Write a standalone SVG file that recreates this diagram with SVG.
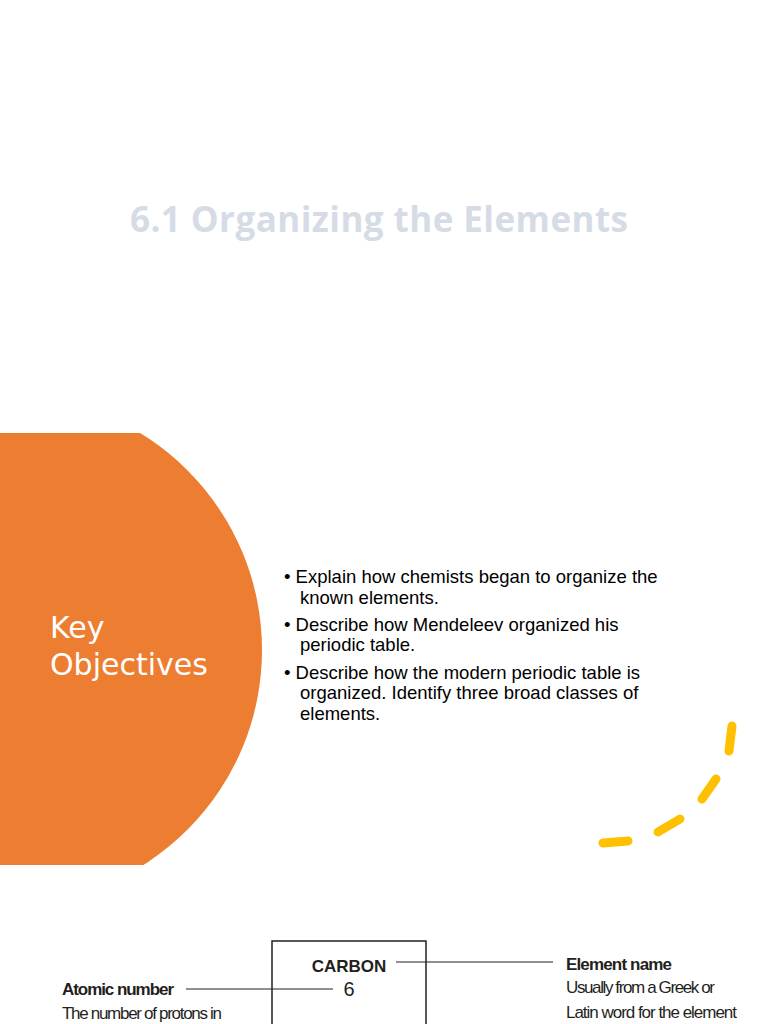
<svg xmlns="http://www.w3.org/2000/svg" width="768" height="1024" viewBox="0 0 768 1024">
<style>
.b{font-family:"Liberation Sans",Arial,sans-serif;font-size:18.5px;fill:#000}
.c{font-family:"Liberation Sans Narrow","Liberation Sans",sans-serif;fill:#231f20}
.d{stroke:#ffc000;stroke-width:9;stroke-linecap:round;fill:none}
</style>
<defs><clipPath id="cp"><rect x="0" y="433" width="300" height="432"/></clipPath></defs>
<rect width="768" height="1024" fill="#fff"/>
<text x="379" y="232" text-anchor="middle" font-family="'Open Sans','Liberation Sans',sans-serif" font-weight="bold" font-size="35" fill="#d6dce5" textLength="498">6.1 Organizing the Elements</text>
<g id="circle"><circle cx="8" cy="650" r="254" fill="#ed7d31" clip-path="url(#cp)"/>
<text font-family="'DejaVu Sans',sans-serif" font-size="30" fill="#fff"><tspan x="50" y="638">Key</tspan><tspan x="50" y="675">Objectives</tspan></text></g>
<g id="bullets">
<text class="b"><tspan x="284" y="583">• Explain how chemists began to organize the</tspan><tspan x="300" y="604">known elements.</tspan>
<tspan x="284" y="631">• Describe how Mendeleev organized his</tspan><tspan x="300" y="651">periodic table.</tspan>
<tspan x="284" y="679">• Describe how the modern periodic table is</tspan><tspan x="300" y="699">organized.  Identify three broad classes of</tspan><tspan x="300" y="720">elements.</tspan></text></g>
<g id="dashes">
<path class="d" d="M732 726 L729 751"/><path class="d" d="M716 779 L702 799"/><path class="d" d="M680 819 L658 832"/><path class="d" d="M628 841 L603 843"/>
</g>
<g id="carbon"><rect x="272" y="941" width="154" height="100" fill="none" stroke="#231f20" stroke-width="1.5"/>
<text x="349" y="972" text-anchor="middle" font-family="'Liberation Sans',sans-serif" font-weight="bold" font-size="17" fill="#231f20">CARBON</text>
<text x="349" y="996" text-anchor="middle" font-family="'Liberation Sans',sans-serif" font-size="20" fill="#231f20">6</text></g>
<g id="connectors" stroke="#231f20" stroke-width="1"><line x1="396" y1="962" x2="553" y2="962"/><line x1="186" y1="989" x2="333" y2="989"/></g>
<g id="labels">
<text class="c" x="62" y="995" font-weight="bold" font-size="17" textLength="112">Atomic number</text>
<text class="c" x="62" y="1019" font-size="17" textLength="160">The number of protons in</text>
<text class="c" x="566" y="970" font-weight="bold" font-size="17" textLength="106">Element name</text>
<text class="c" x="566" y="993" font-size="17" textLength="149">Usually from a Greek or</text>
<text class="c" x="566" y="1018" font-size="17" textLength="171">Latin word for the element</text>
</g>
</svg>
